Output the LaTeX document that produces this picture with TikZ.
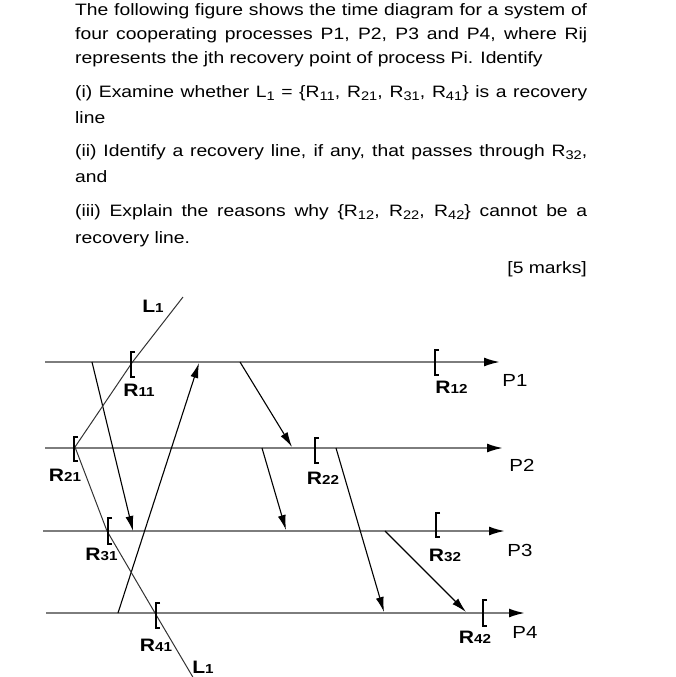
\documentclass[tikz,border=0pt]{standalone}
\usepackage{fontspec}
\usepackage{graphicx}
\setmainfont{Liberation Sans}
\usetikzlibrary{arrows.meta}
\definecolor{axisgray}{RGB}{125,125,125}
\newcommand{\sx}[1]{\scalebox{1.17}[1]{#1}}
\newcommand{\tsub}[1]{\raisebox{-3.3pt}{\fontsize{12.5}{12.5}\selectfont #1}}
\newcommand{\rlab}[2]{\sx{\textbf{\fontsize{18}{20}\selectfont #1\fontsize{13}{14}\selectfont #2}}}
\begin{document}
\begin{tikzpicture}[x=1pt,y=-1pt,
  txt/.style={anchor=base west,inner sep=0pt,font=\fontsize{16.5}{19}\selectfont},
  proc/.style={draw=axisgray,line width=2pt,-{Latex[length=16pt,width=9pt,color=black]}},
  msg/.style={draw=black,line width=1.1pt,-{Latex[length=15pt,width=8pt]}},
  brk/.style={draw=black,line width=1.8pt},
  lline/.style={draw=black!80,line width=1pt},
  lab/.style={anchor=base,inner sep=0pt},
  plab/.style={anchor=base,inner sep=0pt,font=\fontsize{17.5}{20}\selectfont}]
\useasboundingbox (0,0) rectangle (675,677);

% ---- question text ----
\node[txt] (t1) at (75,15.7) {\sx{\makebox[437.6pt][s]{The following figure shows the time diagram for a system of}}};
\node[txt] (t2) at (75,39.5) {\sx{\makebox[437.6pt][s]{four cooperating processes P1, P2, P3 and P4, where Rij}}};
\node[txt] (t3) at (75,63.5) {\sx{represents the jth recovery point of process Pi. Identify}};
\node[txt] (t4) at (75,97) {\sx{\makebox[437.6pt][s]{(i) Examine whether L\tsub{1} = \{R\tsub{11}, R\tsub{21}, R\tsub{31}, R\tsub{41}\} is a recovery}}};
\node[txt] (t5) at (75,123) {\sx{line}};
\node[txt] (t6) at (75,156.5) {\sx{\makebox[437.6pt][s]{(ii) Identify a recovery line, if any, that passes through R\tsub{32},}}};
\node[txt] (t7) at (75,182.5) {\sx{and}};
\node[txt] (t8) at (75,216.5) {\sx{\makebox[437.6pt][s]{(iii) Explain the reasons why \{R\tsub{12}, R\tsub{22}, R\tsub{42}\} cannot be a}}};
\node[txt] (t9) at (75,243) {\sx{recovery line.}};
\node[txt,anchor=base east] (t10) at (587,273) {\sx{[5 marks]}};

% ---- process lines ----
\coordinate (p1s) at (45,362);  \coordinate (p1e) at (500,362);
\coordinate (p2s) at (45,448);  \coordinate (p2e) at (503,448);
\coordinate (p3s) at (43,531);  \coordinate (p3e) at (505,531);
\coordinate (p4s) at (46,613);  \coordinate (p4e) at (525,613);
\draw[proc] (p1s) -- (p1e);
\draw[proc] (p2s) -- (p2e);
\draw[proc] (p3s) -- (p3e);
\draw[proc] (p4s) -- (p4e);
\node[plab] (P1) at (515,386) {\sx{P1}};
\node[plab] (P2) at (522,471) {\sx{P2}};
\node[plab] (P3) at (520,556) {\sx{P3}};
\node[plab] (P4) at (525,638) {\sx{P4}};

% ---- messages ----
\coordinate (m1a) at (92,362);  \coordinate (m1b) at (133,531);
\coordinate (m2a) at (118,613); \coordinate (m2b) at (199,363);
\coordinate (m3a) at (240,362); \coordinate (m3b) at (292,447);
\coordinate (m4a) at (262,448); \coordinate (m4b) at (286,530);
\coordinate (m5a) at (336,448); \coordinate (m5b) at (384,612);
\coordinate (m6a) at (385,531); \coordinate (m6b) at (466,612);
\draw[msg] (m1a) -- (m1b);
\draw[msg] (m2a) -- (m2b);
\draw[msg] (m3a) -- (m3b);
\draw[msg] (m4a) -- (m4b);
\draw[msg] (m5a) -- (m5b);
\draw[msg] (m6a) -- (m6b);

% ---- recovery line L1 ----
\coordinate (l1top) at (183,297);
\coordinate (c11) at (132.5,362);
\coordinate (c21) at (75,447);
\coordinate (c31) at (107,531);
\coordinate (c41) at (155,613);
\coordinate (l1bot) at (194,679);
\draw[lline] (l1top) -- (c11) -- (c21) -- (c31) -- (c41) -- (l1bot);
\node[lab] (L1a) at (153,312) {\rlab{L}{1}};
\node[lab] (L1b) at (203,673.5) {\rlab{L}{1}};

% ---- recovery point brackets ----
\draw[brk] (135,352) -- (131,352) -- (131,377) -- (135,377);
\draw[brk] (439,350) -- (435,350) -- (435,375) -- (439,375);
\draw[brk] (78,437) -- (74,437) -- (74,461) -- (78,461);
\draw[brk] (319,438) -- (315,438) -- (315,463) -- (319,463);
\draw[brk] (112,518) -- (108,518) -- (108,544) -- (112,544);
\draw[brk] (440,513) -- (436,513) -- (436,537) -- (440,537);
\draw[brk] (160,603) -- (156,603) -- (156,628) -- (160,628);
\draw[brk] (487,600) -- (483,600) -- (483,626) -- (487,626);

% ---- labels ----
\node[lab] (R11) at (139,396) {\rlab{R}{11}};
\node[lab] (R12) at (451.5,393) {\rlab{R}{12}};
\node[lab] (R21) at (65,481) {\rlab{R}{21}};
\node[lab] (R22) at (323,484) {\rlab{R}{22}};
\node[lab] (R31) at (101.5,560) {\rlab{R}{31}};
\node[lab] (R32) at (445,561) {\rlab{R}{32}};
\node[lab] (R41) at (156,651) {\rlab{R}{41}};
\node[lab] (R42) at (475,643) {\rlab{R}{42}};
\end{tikzpicture}
\end{document}
